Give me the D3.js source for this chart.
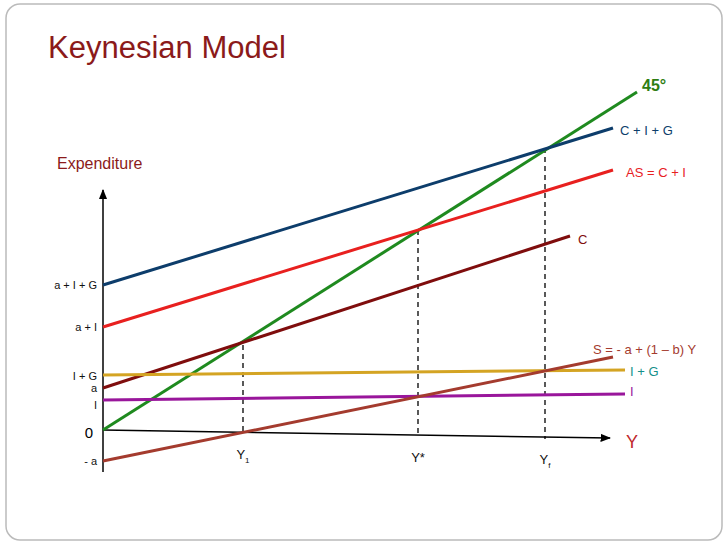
<!DOCTYPE html><html><head><meta charset="utf-8"><script src="https://cdn.jsdelivr.net/npm/d3@7"></script>
<style>body{margin:0;background:#fff}text{font-family:Arial,"Liberation Sans",sans-serif}</style></head><body><svg id="c" width="728" height="546"></svg><script>
// data units: Y (income) and expenditure, 0..534 x, -40..345 y
const lines=[
 {name:"45°",x:[0,534],y:[0,338],color:"#1f8a1f"},
 {name:"C + I + G",x:[0,510],y:[145,302],color:"#0d3d6b"},
 {name:"AS = C + I",x:[0,510],y:[103,260],color:"#e8201f"},
 {name:"C",x:[0,467],y:[42,194],color:"#7f0d0d"},
 {name:"I + G",x:[0,522],y:[55,60],color:"#d4a423"},
 {name:"I",x:[0,522],y:[30,36],color:"#99169b"},
 {name:"S = - a + (1 – b) Y",x:[0,510],y:[-31,73],color:"#a43b2e"}
];
const eqX=[140,315,442], eqY=[85,200,282], eqNames=["Y","Y*","Y"], eqSub=["1","","f"];
const yTicks=[{v:145,t:"a + I + G"},{v:103,t:"a + I"},{v:54,t:"I + G"},{v:42,t:"a"},{v:25,t:"I"},{v:-31,t:"- a"}];
const svg=d3.select("#c");
svg.append("rect").attr("x",6).attr("y",4).attr("width",716).attr("height",536).attr("rx",14).attr("fill","none").attr("stroke","#bbb").attr("stroke-width",1.5);
svg.append("text").attr("x",48).attr("y",58).attr("font-size",31).attr("fill","#8b1a1a").text("Keynesian Model");
svg.append("text").attr("x",57).attr("y",169).attr("font-size",16).attr("fill","#8b1a1a").text("Expenditure");
const x=d3.scaleLinear().domain([0,534]).range([103,637]);
const y=d3.scaleLinear().domain([0,338]).range([430,92]);
const defs=svg.append("defs");
defs.append("marker").attr("id","ar").attr("viewBox","0 0 10 10").attr("refX",9).attr("refY",5).attr("markerWidth",7).attr("markerHeight",7).attr("orient","auto").append("path").attr("d","M0,1L10,5L0,9z").attr("fill","#000");
// axes
svg.append("line").attr("x1",x(0)).attr("y1",y(-42)).attr("x2",x(0)).attr("y2",y(240)).attr("stroke","#000").attr("stroke-width",1.5).attr("marker-end","url(#ar)");
svg.append("line").attr("x1",x(0)).attr("y1",y(0)).attr("x2",x(507)).attr("y2",y(-8)).attr("stroke","#000").attr("stroke-width",1.5).attr("marker-end","url(#ar)");
// dashed
eqX.forEach((v,i)=>svg.append("line").attr("x1",x(v)).attr("x2",x(v)).attr("y1",y(eqY[i])).attr("y2",y(-v*8/507)+2).attr("stroke","#000").attr("stroke-width",1.3).attr("stroke-dasharray","5,4"));
eqX.forEach((v,i)=>{const t=svg.append("text").attr("x",x(v)).attr("y",y(-v*8/507)+27).attr("text-anchor","middle").attr("font-size",13).attr("fill","#111");
 t.append("tspan").text(eqNames[i]); if(eqSub[i]) t.append("tspan").attr("font-size",8).attr("dy",4).text(eqSub[i]);});
lines.forEach(l=>svg.append("line").attr("x1",x(l.x[0])).attr("y1",y(l.y[0])).attr("x2",x(l.x[1])).attr("y2",y(l.y[1])).attr("stroke",l.color).attr("stroke-width",3));
yTicks.forEach(d=>svg.append("text").attr("x",97).attr("y",y(d.v)+4).attr("text-anchor","end").attr("font-size",11).attr("fill","#111").text(d.t));
svg.append("text").attr("x",93).attr("y",y(0)+8).attr("text-anchor","end").attr("font-size",15).text("0");
const lab=[["45°",642,91,"#2e7d12",16,"bold"],["C + I + G",620,135,"#0d3d6b",13],["AS = C + I",626,177,"#e8201f",13],["C",578,244,"#7f0d0d",13],
["S = - a + (1 – b) Y",593,354,"#a43b2e",13],["I + G",630,376,"#14908a",13],["I",630,396,"#99169b",13],["Y",626,448,"#c0282c",18]];
lab.forEach(a=>svg.append("text").attr("x",a[1]).attr("y",a[2]).attr("fill",a[3]).attr("font-size",a[4]).attr("font-weight",a[5]||"normal").text(a[0]));
</script></body></html>
